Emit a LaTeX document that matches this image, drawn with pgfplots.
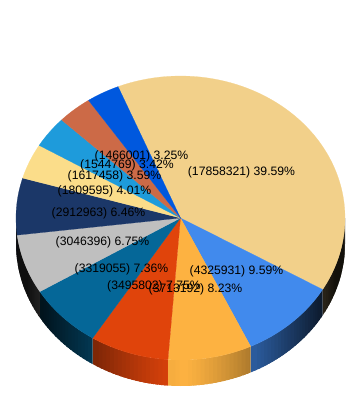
\documentclass[border=0pt]{standalone}
\usepackage{fontspec}
\setmainfont{Liberation Sans}
\usepackage{pgfplots}
\pgfplotsset{compat=1.18}
\definecolor{cA}{HTML}{F2D08A}
\definecolor{cB}{HTML}{418AED}
\definecolor{cC}{HTML}{FDB241}
\definecolor{cD}{HTML}{E0440B}
\definecolor{cE}{HTML}{056798}
\definecolor{cF}{HTML}{BFBFBF}
\definecolor{cG}{HTML}{1B3768}
\definecolor{cH}{HTML}{FBDD8A}
\definecolor{cI}{HTML}{1E9BDB}
\definecolor{cJ}{HTML}{CC6A47}
\definecolor{cK}{HTML}{0058DE}
\newcommand\cx{180.5}\newcommand\cy{218}\newcommand\rx{164.5}\newcommand\ry{142}\newcommand\dep{26}
\newcommand\slices{39.59/cA,9.59/cB,8.23/cC,7.75/cD,7.36/cE,6.75/cF,6.46/cG,4.01/cH,3.59/cI,3.42/cJ,3.25/cK}
\begin{document}
\begin{tikzpicture}
\useasboundingbox (0,0) rectangle (363pt,413pt);
\begin{axis}[scale only axis,width=363pt,height=413pt,xmin=0,xmax=363,ymin=0,ymax=413,y dir=reverse,clip=false,hide axis]
% side wall
\xdef\angS{112.3}
\foreach \val/\col in \slices {
  \pgfmathsetmacro\aS{\angS}
  \pgfmathsetmacro\aE{\aS-\val*3.6}
  \xdef\angS{\aE}
  \pgfmathsetmacro\hi{min(\aS,0)}
  \pgfmathsetmacro\lo{max(\aE,-180)}
  \pgfmathtruncatemacro\N{\lo<\hi ? ceil((\hi-\lo)/1.5) : 0}
  \ifnum\N>0
    \pgfmathtruncatemacro\Nm{\N-1}
    \foreach \n in {0,...,\Nm} {
      \pgfmathsetmacro\ta{\hi+(\lo-\hi)*(\n/\N)}
      \pgfmathsetmacro\tb{\hi+(\lo-\hi)*((\n+1)/\N)}
      \pgfmathsetmacro\tm{(\ta+\tb)/2}
      \pgfmathsetmacro\tp{\n>0 ? \ta+1 : \ta}
      \pgfmathsetmacro\pct{max(8,100*(1-pow(abs(cos(\tm))+0.001,1.3)))}
      \pgfmathsetmacro\xa{\cx+\rx*cos(\tp)}
      \pgfmathsetmacro\ya{\cy-\ry*sin(\tp)}
      \pgfmathsetmacro\xb{\cx+\rx*cos(\tb)}
      \pgfmathsetmacro\yb{\cy-\ry*sin(\tb)}
      \pgfmathsetmacro\yc{\ya+\dep}
      \pgfmathsetmacro\yd{\yb+\dep}
      \edef\cmd{\noexpand\addplot[fill=\col!\pct!black,draw=none] coordinates {(\xa,\ya) (\xb,\yb) (\xb,\yd) (\xa,\yc)} --cycle;}
      \cmd
    }
  \fi
}
% top
\xdef\angS{112.3}
\foreach \val/\col in \slices {
  \pgfmathsetmacro\aS{\angS}
  \pgfmathsetmacro\aE{\aS-\val*3.6}
  \xdef\angS{\aE}
  \pgfmathtruncatemacro\N{ceil(\val*3.6)+1}
  \xdef\pts{(\cx,\cy)}
  \foreach \n in {0,...,\N} {
    \pgfmathsetmacro\tq{\aS+(\aE-\aS)*(\n/\N)}
    \pgfmathsetmacro\px{\cx+\rx*cos(\tq)}
    \pgfmathsetmacro\py{\cy-\ry*sin(\tq)}
    \xdef\pts{\pts (\px,\py)}
  }
  \edef\cmd{\noexpand\addplot[fill=\col,draw=\col,line width=0.2pt] coordinates {\pts} --cycle;}
  \cmd
}
\newcommand\lab[3]{\node[inner sep=0pt,text=black,font=\fontsize{12.2}{14}\selectfont] at (axis cs:#1,#2) {#3};}
\lab{241.5}{172}{(17858321) 39.59\%}
\lab{236.5}{271}{(4325931) 9.59\%}
\lab{154}{286}{(3495802) 7.75\%}
\lab{195.5}{289}{(3713192) 8.23\%}
\lab{121.5}{269}{(3319055) 7.36\%}
\lab{102.5}{242}{(3046396) 6.75\%}
\lab{98.5}{213}{(2912963) 6.46\%}
\lab{104.5}{191}{(1809595) 4.01\%}
\lab{114.5}{176}{(1617458) 3.59\%}
\lab{127}{165}{(1544769) 3.42\%}
\lab{141.5}{156}{(1466001) 3.25\%}
\end{axis}
\end{tikzpicture}
\end{document}
